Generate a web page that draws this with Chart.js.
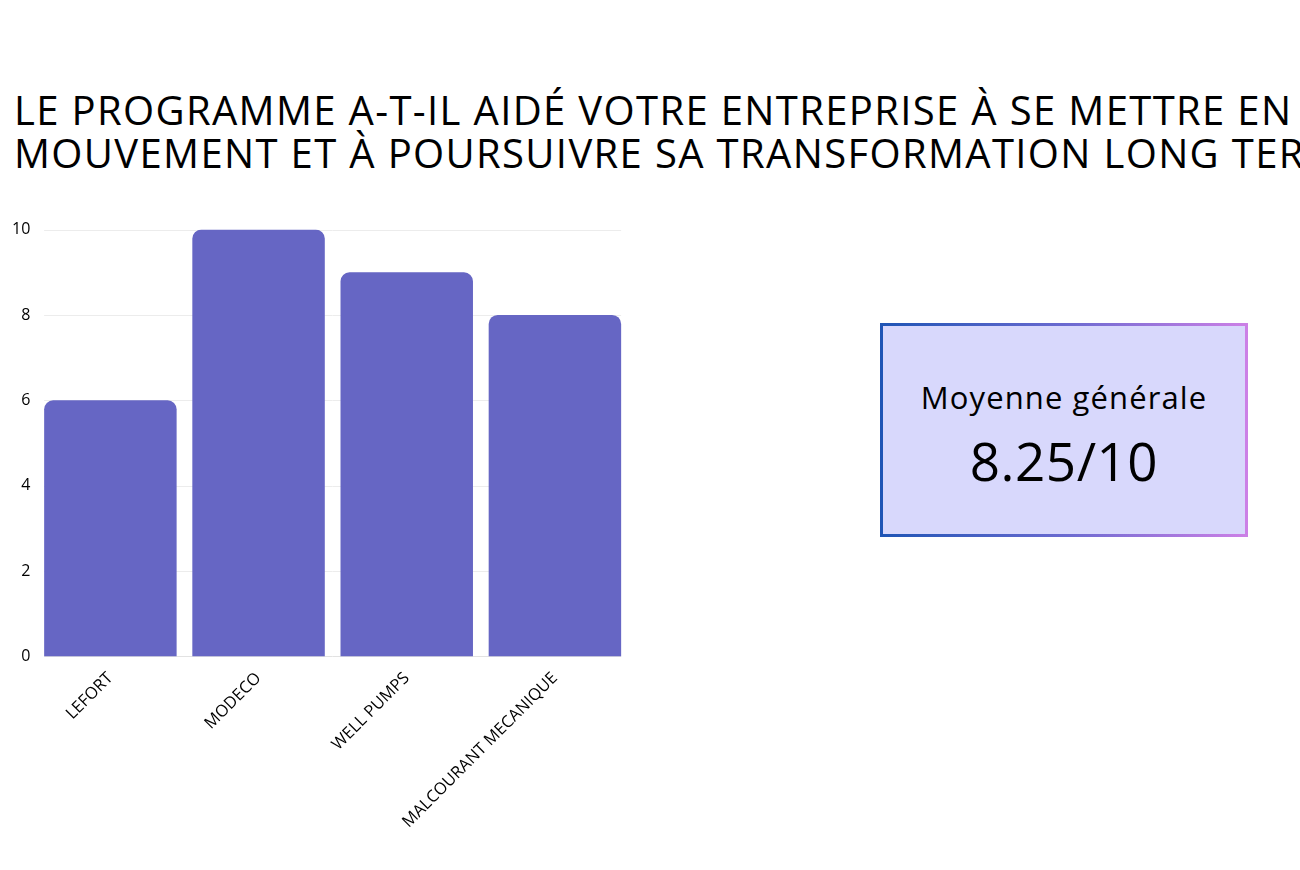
<!DOCTYPE html>
<html>
<head>
<meta charset="utf-8">
<script src="https://cdn.jsdelivr.net/npm/chart.js@4.4.1/dist/chart.umd.min.js"></script>
<style>
  html, body { margin: 0; padding: 0; background: #fff; width: 1300px; height: 870px; overflow: hidden; font-family: "Open Sans", sans-serif; }
  #title { position: absolute; left: 14px; top: 88px; width: 1400px; font-size: 40px; line-height: 43px; color: #000; white-space: nowrap; font-weight: 400; letter-spacing: 1.35px; }
  #chartWrap { position: absolute; left: 0px; top: 214px; width: 633px; height: 622px; }
  #box { position: absolute; left: 880px; top: 323px; width: 362px; height: 208px; background: #d8d8fc;
         border: 3px solid; border-image: linear-gradient(90deg, #1f55b5, #6a6ad0 50%, #cc80e6) 1; text-align: center; }
  #boxLabel { position: absolute; left: 0; right: 0; top: 50px; font-size: 31px; letter-spacing: 1.1px; color: #000; }
  #boxValue { position: absolute; left: 0; right: 0; top: 98px; font-size: 53px; letter-spacing: 0.5px; color: #000; }
</style>
</head>
<body>
<div id="title">LE PROGRAMME A-T-IL AIDÉ VOTRE ENTREPRISE À SE METTRE EN<br>MOUVEMENT ET À POURSUIVRE SA TRANSFORMATION LONG TERME ?</div>
<div id="chartWrap"><canvas id="c"></canvas></div>
<div id="box"><div id="boxLabel">Moyenne générale</div><div id="boxValue">8.25/10</div></div>
<script>
const categories = ["LEFORT", "MODECO", "WELL PUMPS", "MALCOURANT MECANIQUE"];
const scores = [6, 10, 9, 8];
const yTicks = [0, 2, 4, 6, 8, 10];

// Draw horizontal gridlines spanning from the first bar's left edge to the last bar's right edge
const barSpanGrid = {
  id: 'barSpanGrid',
  beforeDatasetsDraw(chart) {
    const meta = chart.getDatasetMeta(0);
    const first = meta.data[0], last = meta.data[meta.data.length - 1];
    const x0 = first.x - first.width / 2, x1 = last.x + last.width / 2;
    const y = chart.scales.y;
    const ctx = chart.ctx;
    ctx.save();
    ctx.lineWidth = 1;
    yTicks.forEach(v => {
      const py = Math.round(y.getPixelForValue(v)) + 0.5;
      ctx.strokeStyle = v === 0 ? '#e2e2e2' : '#ececec';
      ctx.beginPath(); ctx.moveTo(x0, py); ctx.lineTo(x1, py); ctx.stroke();
    });
    ctx.restore();
  }
};

new Chart(document.getElementById('c'), {
  type: 'bar',
  data: {
    labels: categories,
    datasets: [{
      data: scores,
      backgroundColor: '#6666c4',
      borderRadius: { topLeft: 9, topRight: 9, bottomLeft: 0, bottomRight: 0 },
      borderSkipped: 'bottom',
      barPercentage: 0.894,
      categoryPercentage: 1.0
    }]
  },
  options: {
    responsive: true,
    maintainAspectRatio: false,
    animation: false,
    layout: { padding: { left: 6, right: 4, top: 9, bottom: 0 } },
    plugins: { legend: { display: false }, tooltip: { enabled: false } },
    scales: {
      x: {
        grid: { display: false },
        border: { display: false },
        ticks: { color: '#000', font: { family: 'Open Sans', size: 16.5 }, minRotation: 45, maxRotation: 45, padding: 4 }
      },
      y: {
        min: 0, max: 10,
        afterBuildTicks: (axis) => { axis.ticks = yTicks.map(v => ({ value: v })); },
        grid: { display: false, drawTicks: false },
        border: { display: false },
        ticks: { color: '#000', font: { family: 'Open Sans', size: 16 }, padding: 6 }
      }
    }
  },
  plugins: [barSpanGrid]
});
</script>
</body>
</html>
